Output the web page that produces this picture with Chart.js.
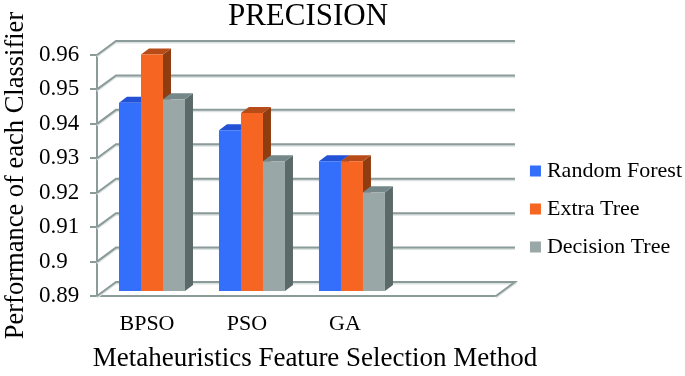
<!DOCTYPE html>
<html><head><meta charset="utf-8">
<style>html,body{margin:0;padding:0;background:#fff}#w{width:685px;height:376px}</style>
<script src="https://cdn.jsdelivr.net/npm/chart.js@4"></script></head>
<body><div id="w"><canvas id="c"></canvas></div>
<script>
const categories = ['BPSO','PSO','GA',''];
const randomForest = [0.945,0.937,0.928,null];
const extraTree = [0.959,0.942,0.928,null];
const decisionTree = [0.946,0.928,0.919,null];
const serif = '"Liberation Serif"';
const wall = '#8b9b99', wallLight = '#dbe2e1';
const WDX=19, WDY=-14, BDX=8, BDY=-6, SHX=5, SHY=-4;
const shades = [['#2352d6','#1f49bd'],['#b84c18','#8f3d10'],['#76878a','#5b6968']];
const legendColors = ['#336ffb','#f66522','#99a8a7'];

const plugin = {
  id:'depth',
  afterLayout(chart){
    const x=chart.scales.x,y=chart.scales.y;
    chart.titleBlock.left=0; chart.titleBlock.right=616;
    chart.legend.top+=42;
    const li=x.getLabelItems();
    if(li[2]) li[2].options.translation[0]-=2;
    y.getLabelItems().forEach(it=>{it.options.textAlign='left';it.options.translation[0]=39;});
  },
  beforeDatasetsDraw(chart){
    const {ctx,scales:{x,y}}=chart;
    const L=x.left,R=x.right;
    ctx.save();
    y.ticks.forEach(t=>{
      const p=y.getPixelForValue(t.value);
      ctx.lineCap='butt';
      for(const [c,o] of [[wallLight,1.5],[wall,0]]){
        ctx.strokeStyle=c;ctx.lineWidth=2;ctx.beginPath();
        ctx.moveTo(L,p+o);ctx.lineTo(L+WDX,p+WDY+o);ctx.lineTo(R+WDX-1,p+WDY+o);
        if(t.value===y.min){ctx.lineTo(R-1,p+o);}
        ctx.stroke();
      }
    });
    ctx.restore();
    ctx.save();
    ctx.translate(SHX,SHY);
    [0,1,2].forEach(k=>{
      const s=shades[k];
      chart.getDatasetMeta(k).data.forEach((b,i)=>{
        if(chart.data.datasets[k].data[i]==null) return;
        const l=b.x-b.width/2,r=b.x+b.width/2,tp=b.y,bt=b.base;
        ctx.fillStyle=s[1];ctx.beginPath();
        ctx.moveTo(r,tp);ctx.lineTo(r+BDX,tp+BDY);ctx.lineTo(r+BDX,bt+BDY);ctx.lineTo(r,bt);ctx.closePath();ctx.fill();
        ctx.fillStyle=s[0];ctx.beginPath();
        ctx.moveTo(l,tp);ctx.lineTo(l+BDX,tp+BDY);ctx.lineTo(r+BDX,tp+BDY);ctx.lineTo(r,tp);ctx.closePath();ctx.fill();
      });
    });
  },
  afterDatasetsDraw(chart){
    chart.ctx.restore();
    const {ctx}=chart;
    ctx.save();
    ctx.fillStyle='#000';ctx.font='27px '+serif;ctx.textAlign='center';ctx.textBaseline='middle';
    ctx.fillText('Metaheuristics Feature Selection Method',315,359);
    chart.legend.legendItems.forEach((it,i)=>{
      const h=chart.legend.legendHitBoxes[i];
      ctx.fillStyle=legendColors[i];
      ctx.fillRect(h.left,h.top+h.height/2-5.5,11,11);
    });
    ctx.restore();
  }
};

new Chart(document.getElementById('c'),{
  type:'bar',
  data:{labels:categories,datasets:[
    {label:'Random Forest',data:randomForest,backgroundColor:'#336ffb'},
    {label:'Extra Tree',data:extraTree,backgroundColor:'#f66522'},
    {label:'Decision Tree',data:decisionTree,backgroundColor:'#99a8a7'}
  ]},
  plugins:[plugin],
  options:{
    responsive:true,maintainAspectRatio:false,animation:false,
    layout:{padding:{left:0,right:-7,top:0,bottom:0}},
    datasets:{bar:{categoryPercentage:0.66,barPercentage:1,clip:false,base:0.89}},
    plugins:{
      title:{display:true,text:'PRECISION',color:'#000',font:{family:serif,size:31,weight:'normal',lineHeight:1},padding:{top:1,bottom:23}},
      tooltip:{enabled:false},
      legend:{position:'right',maxWidth:190,labels:{color:'#000',font:{family:serif,size:22},boxHeight:11,boxWidth:6,padding:16,
        generateLabels(ch){return ch.data.datasets.map((d,i)=>({text:d.label,fillStyle:'rgba(0,0,0,0)',strokeStyle:'rgba(0,0,0,0)',lineWidth:0,datasetIndex:i}));}}}
    },
    scales:{
      x:{offset:true,grid:{display:false},border:{color:wall,width:2},ticks:{color:'#000',font:{family:serif,size:22},padding:7,maxRotation:0,autoSkip:false},
        afterFit(s){s.height=80;}},
      y:{min:0.89,max:0.96,afterFit(s){s.width=97;},
        border:{color:wall,width:2},
        grid:{drawOnChartArea:false,drawTicks:true,tickLength:7,color:wall,lineWidth:2},
        title:{display:true,text:'Performance of each Classifier',color:'#000',font:{family:serif,size:26.5},padding:{top:0,bottom:0}},
        ticks:{stepSize:0.01,color:'#000',font:{family:serif,size:23},padding:4,callback:v=>String(+v.toFixed(2))}},
      y2:{position:'right',display:true,grid:{display:false},border:{display:false},ticks:{display:false},afterFit(s){s.width=17;}}
    }
  }
});
</script></body></html>
